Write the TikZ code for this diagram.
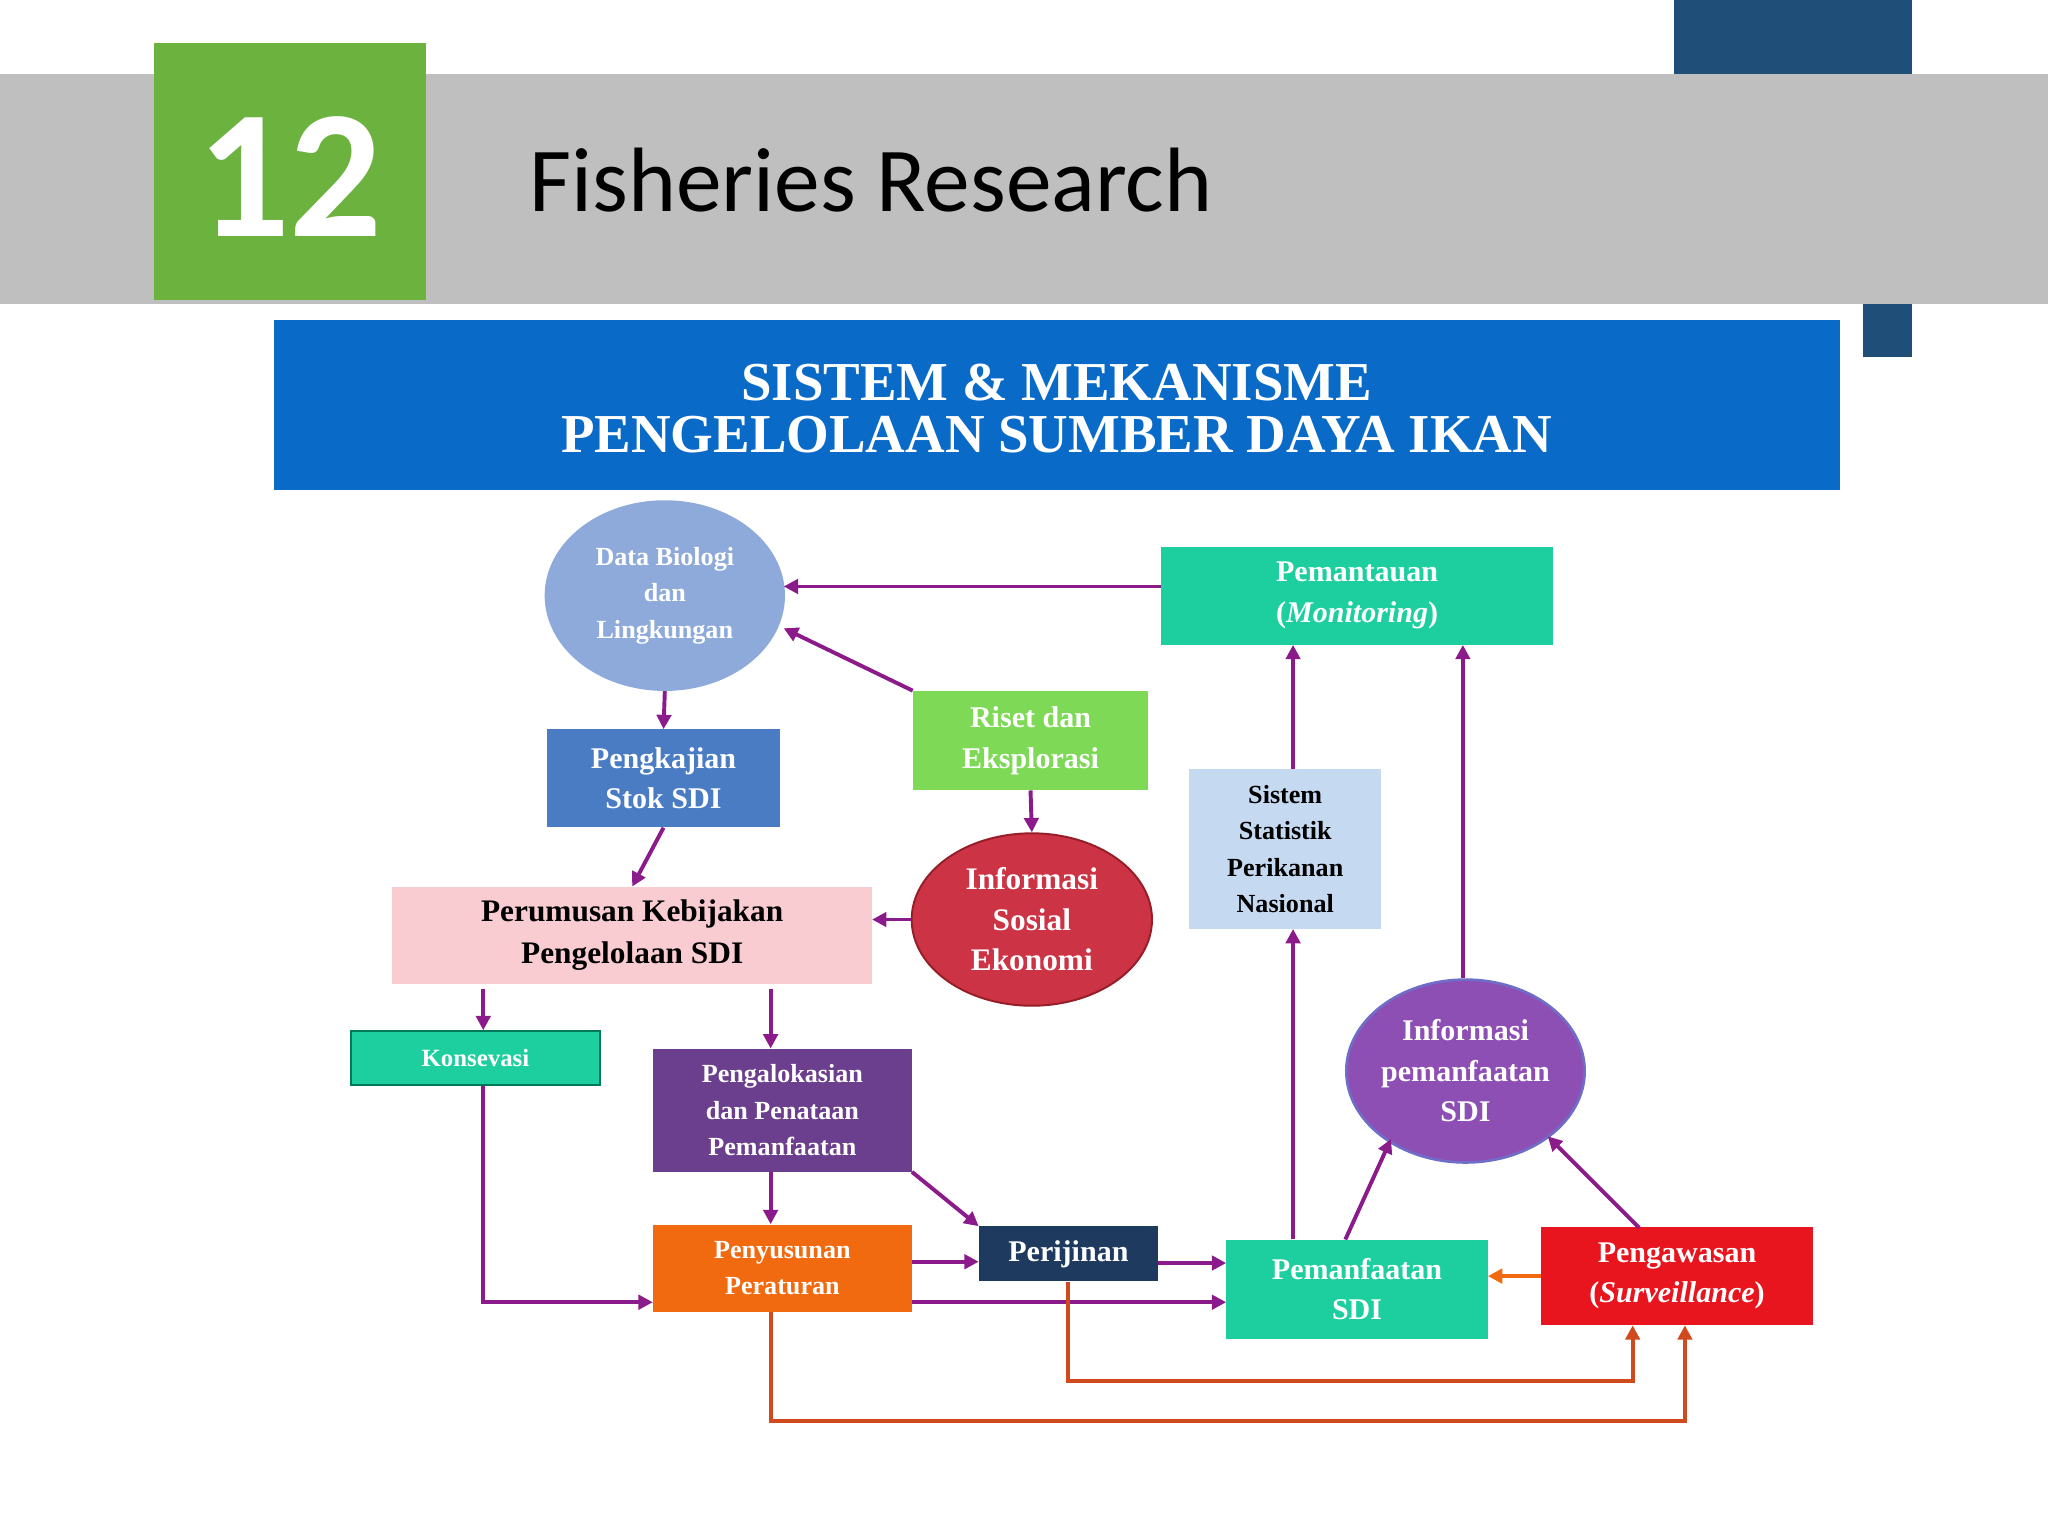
\documentclass[tikz,border=0pt]{standalone}
\usepackage{fontspec}
\setmainfont{Liberation Serif}
\newfontfamily\titlefont{Carlito}
\usetikzlibrary{arrows.meta,shapes.geometric}
\definecolor{arr}{HTML}{8B1A8B}
\definecolor{orr}{HTML}{D04A1E}
\definecolor{teal1}{HTML}{1DCF9F}
\definecolor{navyc}{RGB}{31,78,121}
\definecolor{greenc}{RGB}{108,178,62}
\definecolor{hdrblue}{RGB}{10,106,200}
\definecolor{databl}{RGB}{142,170,219}
\definecolor{risetg}{RGB}{126,217,87}
\definecolor{kajib}{RGB}{74,124,196}
\definecolor{sistb}{RGB}{197,217,241}
\definecolor{sosd}{RGB}{150,30,40}
\definecolor{sosf}{RGB}{204,51,68}
\definecolor{pinkc}{RGB}{249,204,210}
\definecolor{ipemd}{RGB}{110,110,200}
\definecolor{ipemf}{RGB}{142,79,181}
\definecolor{konsd}{RGB}{0,120,90}
\definecolor{alokf}{RGB}{107,63,142}
\definecolor{orangef}{RGB}{242,106,16}
\definecolor{ijinf}{RGB}{31,58,95}
\definecolor{awasf}{RGB}{232,20,30}
\tikzset{
 box/.style={draw=none,align=center,font=\bfseries\fontsize{23}{31}\selectfont,text=white,inner sep=0pt},
 pa/.style={draw=arr,line width=3pt,-{Triangle[length=11pt,width=11pt]}},
 oa/.style={draw=orr,line width=3pt,-{Triangle[length=11pt,width=11pt]}},
}
\begin{document}
\begin{tikzpicture}[x=1pt,y=-1pt]
\useasboundingbox (0,0) rectangle (1568,1176);
\fill[white] (0,0) rectangle (1568,1176);
\fill[gray!50] (0,57) rectangle (1568,233);
\fill[navyc] (1282,0) rectangle (1464,57);
\fill[navyc] (1426,233) rectangle (1464,273);
\fill[greenc] (118,33) rectangle (326,230);
\node[text=white,font=\titlefont\bfseries\fontsize{140}{140}\selectfont] (num) at (222,135) {12};
\node[anchor=west,font=\titlefont\fontsize{70}{70}\selectfont] (title) at (402,138) {Fisheries Research};
\fill[hdrblue] (210,245) rectangle (1409,375);
\node[text=white,align=center,font=\bfseries\fontsize{42}{40}\selectfont] (hdr) at (809,313) {SISTEM \& MEKANISME\\PENGELOLAAN SUMBER DAYA IKAN};

\node[box,ellipse,fill=databl,minimum width=184pt,minimum height=146pt,font=\bfseries\fontsize{20}{28}\selectfont] (data) at (509,456) {Data Biologi\\dan\\Lingkungan};
\node[box,fill=teal1,minimum width=300pt,minimum height=75pt] (pemt) at (1039,456) {Pemantauan\\(\textit{Monitoring})};
\node[box,fill=risetg,minimum width=180pt,minimum height=76pt] (riset) at (789,567) {Riset dan\\Eksplorasi};
\node[box,fill=kajib,minimum width=179pt,minimum height=75pt] (kaji) at (508,596) {Pengkajian\\Stok SDI};
\node[box,fill=sistb,text=black,minimum width=147pt,minimum height=122pt,font=\bfseries\fontsize{20}{28}\selectfont] (sist) at (984,650) {Sistem\\Statistik\\Perikanan\\Nasional};
\node[box,ellipse,draw=sosd,line width=1.5pt,fill=sosf,minimum width=184pt,minimum height=132pt,font=\bfseries\fontsize{24}{31}\selectfont] (sos) at (790,704) {Informasi\\Sosial\\Ekonomi};
\node[box,fill=pinkc,text=black,minimum width=367pt,minimum height=74pt,font=\bfseries\fontsize{24}{32}\selectfont] (rumus) at (484,716) {Perumusan Kebijakan\\Pengelolaan SDI};
\node[box,ellipse,draw=ipemd,line width=2pt,fill=ipemf,minimum width=180pt,minimum height=140pt,font=\bfseries\fontsize{23}{31}\selectfont] (ipem) at (1122,820) {Informasi\\pemanfaatan\\SDI};
\node[box,fill=teal1,draw=konsd,line width=1.5pt,minimum width=191pt,minimum height=41pt,font=\bfseries\fontsize{19}{24}\selectfont] (kons) at (364,810) {Konsevasi};
\node[box,fill=alokf,minimum width=198pt,minimum height=94pt,font=\bfseries\fontsize{20}{28}\selectfont] (alok) at (599,850) {Pengalokasian\\dan Penataan\\Pemanfaatan};
\node[box,fill=orangef,minimum width=198pt,minimum height=67pt,font=\bfseries\fontsize{20}{28}\selectfont] (susun) at (599,971) {Penyusunan\\Peraturan};
\node[box,fill=ijinf,minimum width=137pt,minimum height=42pt] (ijin) at (818,960) {Perijinan};
\node[box,fill=teal1,minimum width=200pt,minimum height=76pt] (manf) at (1039,987) {Pemanfaatan\\SDI};
\node[box,fill=awasf,minimum width=208pt,minimum height=75pt] (awas) at (1284,977) {Pengawasan\\(\textit{Surveillance})};

\draw[pa] (pemt.west|-0,449) -- (600,449);
\draw[pa] (riset.north west) -- (600,481);
\draw[pa] (data.south) -- (kaji.north);
\draw[pa] (riset.south) -- (sos.north);
\draw[pa] (kaji.south) -- (rumus.north);
\draw[pa] (sos.west) -- (rumus.east|-sos.west);
\draw[pa] (370,757) -- (kons.north-|370,0);
\draw[pa] (590,757) -- (alok.north-|590,0);
\draw[pa] (alok.south-|590,0) -- (susun.north-|590,0);
\draw[pa] (alok.south east) -- (ijin.north west);
\draw[pa] (kons.south-|370,0) -- (370,997) -- (susun.west|-0,997);
\draw[pa] (susun.east|-0,966) -- (ijin.west|-0,966);
\draw[pa] (ijin.east|-0,967) -- (manf.west|-0,967);
\draw[pa] (susun.east|-0,997) -- (manf.west|-0,997);
\draw[pa] (manf.north-|990,0) -- (sist.south-|990,0);
\draw[pa] (sist.north-|990,0) -- (pemt.south-|990,0);
\draw[pa] (ipem.north-|1120,0) -- (pemt.south-|1120,0);
\draw[pa] (1030,949) -- (1065,872);
\draw[pa] (1255,940) -- (1185,870);
\draw[draw=orangef,line width=3pt,-{Triangle[length=11pt,width=11pt]}] (awas.west) -- (manf.east|-awas.west);
\draw[oa] (ijin.south) -- (818,1057) -- (1250,1057) -- (awas.south-|1250,0);
\draw[oa] (susun.south-|590,0) -- (590,1088) -- (1290,1088) -- (awas.south-|1290,0);
\end{tikzpicture}
\end{document}
